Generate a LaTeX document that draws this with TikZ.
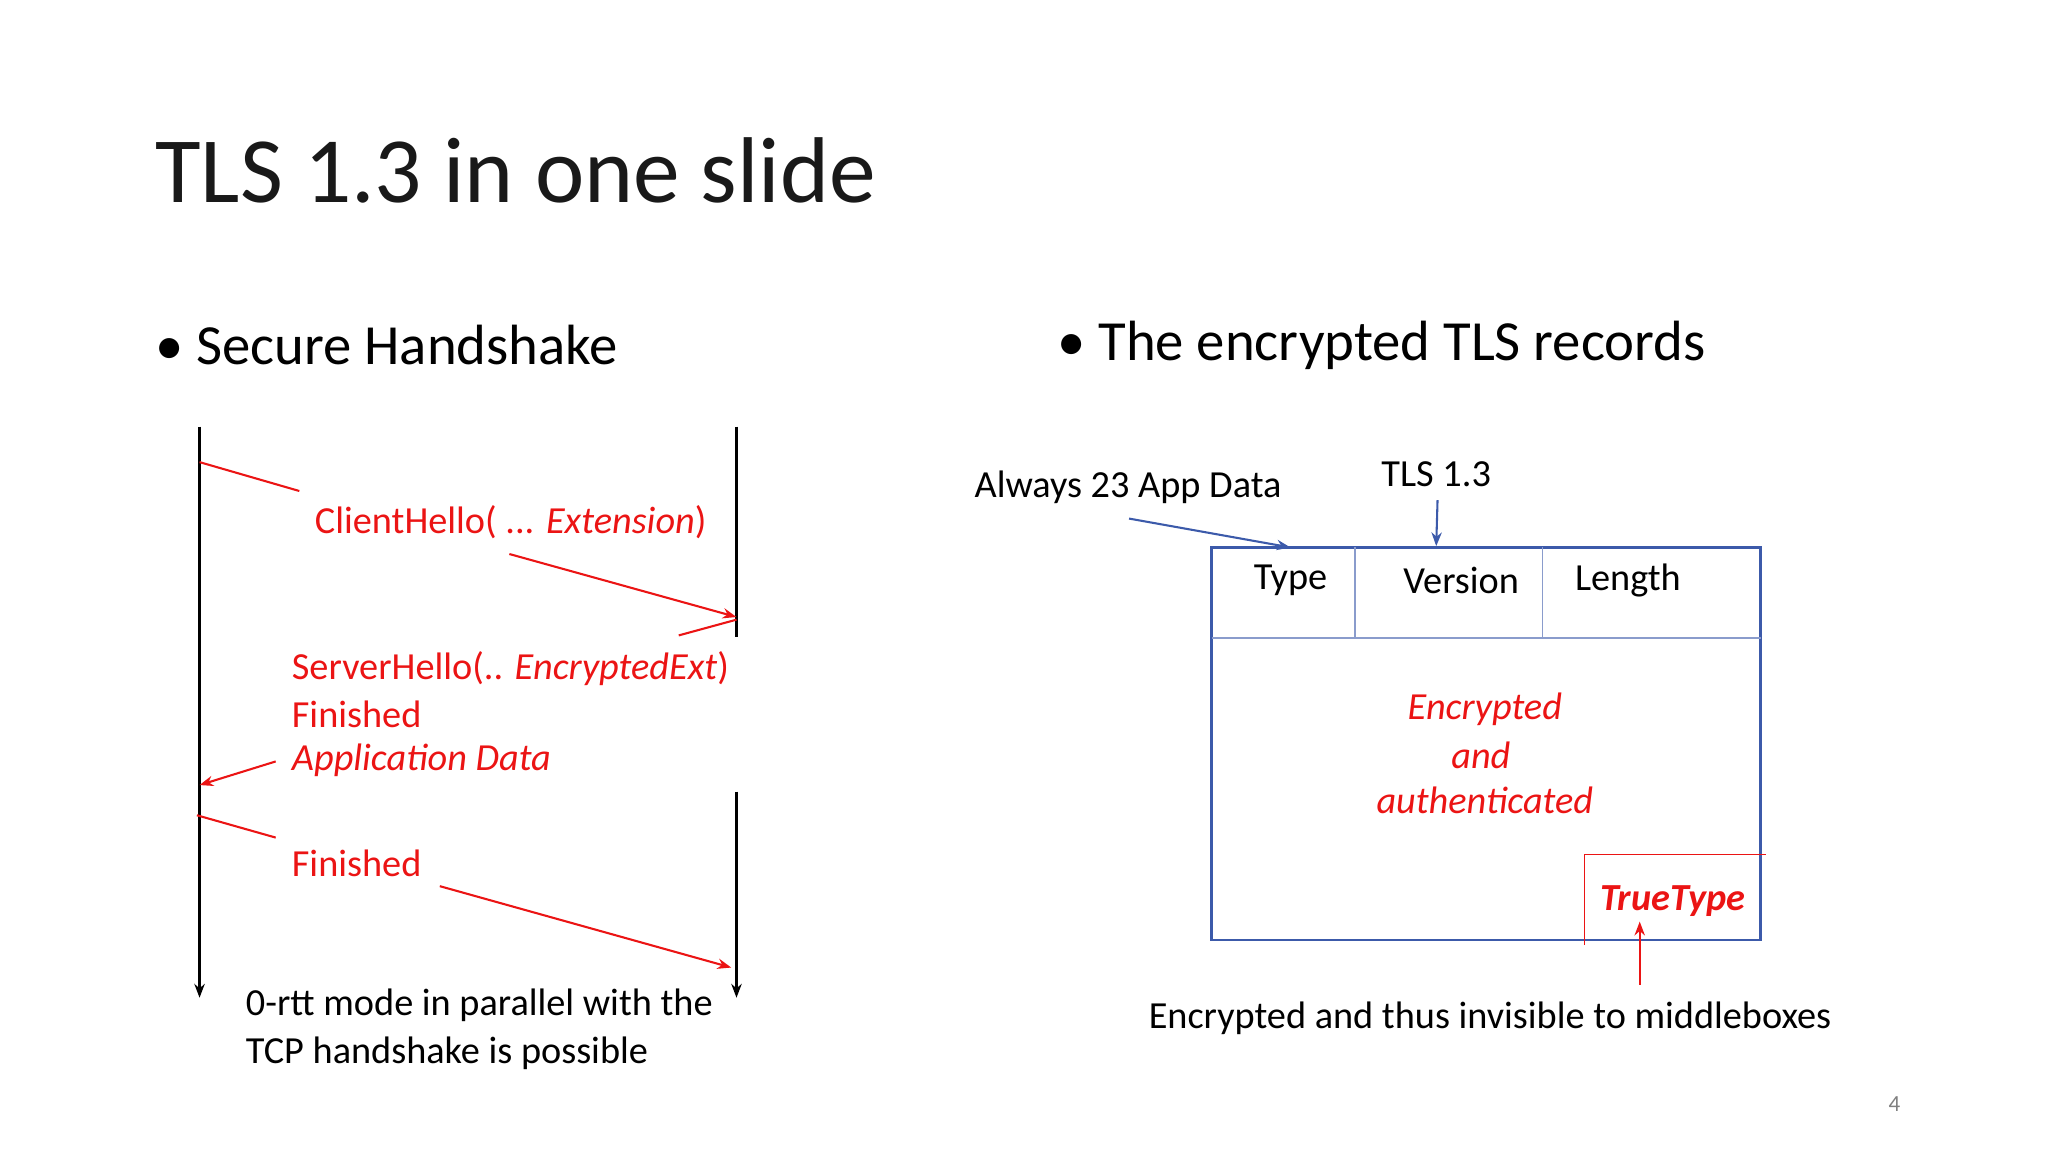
\documentclass[tikz,border=0pt]{standalone}
\usepackage{fontspec}
\setmainfont{Carlito}
\usetikzlibrary{arrows.meta}
\definecolor{myred}{RGB}{235,20,20}
\definecolor{myblue}{RGB}{60,90,170}
\begin{document}
\begin{tikzpicture}[x=0.02cm,y=-0.02cm,
  red txt/.style={text=myred,font=\fontsize{16.6}{20}\selectfont,inner sep=0},
  blk/.style={font=\fontsize{16.6}{20}\selectfont,inner sep=0},
  rl/.style={draw=myred,line width=0.9pt},
  ra/.style={rl,-{Stealth[length=6pt]}},
  bl/.style={draw=myblue,line width=0.9pt,-{Stealth[length=6pt]}},
  tl/.style={draw=black,line width=1pt}]
\useasboundingbox (0,0) rectangle (1560,877.5);
\node[anchor=west,inner sep=0,text=black!90,font=\fontsize{40.5}{46}\selectfont] (title) at (118,130) {TLS 1.3 in one slide};
\node[anchor=west,inner sep=0,font=\fontsize{24.6}{30}\selectfont] (b1) at (118,263) {•\ Secure Handshake};
\node[anchor=west,inner sep=0,font=\fontsize{24.6}{30}\selectfont] (b2) at (805,263) {•\ The encrypted TLS records};
% timelines
\coordinate (l1) at (152,325); \coordinate (l2) at (152,760);
\coordinate (r1) at (561,325); \coordinate (r2) at (561,485);
\coordinate (r3) at (561,603); \coordinate (r4) at (561,760);
\draw[tl,-{Stealth[length=6pt]}] (l1) -- (l2);
\draw[tl] (r1) -- (r2);
\draw[tl,-{Stealth[length=6pt]}] (r3) -- (r4);
% client hello
\node[red txt] (ch) at (389,398) {ClientHello( ... \textit{Extension})};
\coordinate (a1) at (152,352); \coordinate (a2) at (228,374);
\draw[rl] (a1) -- (a2);
\coordinate (a3) at (388,422); \coordinate (a4) at (561,470);
\draw[ra] (a3) -- (a4);
\coordinate (a5) at (561,472); \coordinate (a6) at (517,484);
\draw[rl] (a5) -- (a6);
\node[red txt,anchor=west] (sh) at (222,509) {ServerHello(.. \textit{EncryptedExt})};
\node[red txt,anchor=west] (fin1) at (222,544) {Finished};
\node[red txt,anchor=west] (ad) at (222,579) {\textit{Application Data}};
\coordinate (a7) at (210,580); \coordinate (a8) at (152,598);
\draw[ra] (a7) -- (a8);
\coordinate (a9) at (150,621); \coordinate (a10) at (210,638);
\draw[rl] (a9) -- (a10);
\node[red txt,anchor=west] (fin2) at (222,658) {Finished};
\coordinate (a11) at (335,675); \coordinate (a12) at (557,737);
\draw[ra] (a11) -- (a12);
\node[blk,anchor=west] (n1) at (187,766) {0-rtt mode in parallel with the};
\node[blk,anchor=west] (n2) at (187,802) {TCP handshake is possible};
% record
\node[blk,anchor=west] (always) at (742,371) {Always 23 App Data};
\node[blk] (tls) at (1094,361) {TLS 1.3};
\draw[myblue,line width=1.2pt] (923,417) rectangle (1341,716);
\draw[myblue!60,line width=0.6pt] (923,486) -- (1341,486);
\draw[myblue!60,line width=0.6pt] (1032,417) -- (1032,486);
\draw[myblue!60,line width=0.6pt] (1175,417) -- (1175,486);
\node[blk] (type) at (983,442) {Type};
\node[blk] (ver) at (1113,442) {Version};
\node[blk] (len) at (1240,442) {Length};
\coordinate (b1s) at (860,395); \coordinate (b1e) at (983,417);
\draw[bl] (b1s) -- (b1e);
\coordinate (b2s) at (1095,381); \coordinate (b2e) at (1094,416);
\draw[bl] (b2s) -- (b2e);
\node[red txt,font=\fontsize{16.6}{20}\selectfont\itshape] (e1) at (1131,540) {Encrypted};
\node[red txt,font=\fontsize{16.6}{20}\selectfont\itshape] (e2) at (1128,575) {and};
\node[red txt,font=\fontsize{16.6}{20}\selectfont\itshape] (e3) at (1131,610) {authenticated};
\draw[myred,line width=0.5pt] (1207,720) -- (1207,651) -- (1345,651);
\node[red txt,font=\fontsize{16.6}{20}\selectfont\bfseries\itshape] (tt) at (1274,686) {TrueType};
\coordinate (t1) at (1249,750); \coordinate (t2) at (1249,702);
\draw[ra] (t1) -- (t2);
\node[blk] (inv) at (1135,776) {Encrypted and thus invisible to middleboxes};
\node[inner sep=0,text=gray,font=\fontsize{10}{12}\selectfont] (pg) at (1443,841) {4};
\end{tikzpicture}
\end{document}
